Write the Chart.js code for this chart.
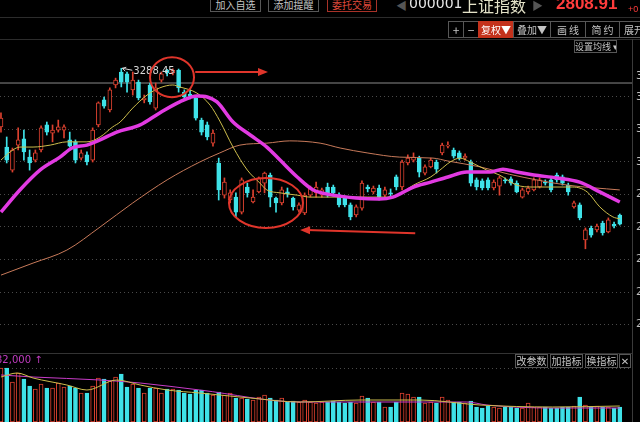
<!DOCTYPE html>
<html>
<head>
<meta charset="utf-8">
<script src="https://cdn.jsdelivr.net/npm/chart.js@4.4.0/dist/chart.umd.min.js"></script>
<style>
  html, body { margin: 0; padding: 0; overflow: hidden; }
  body { background: #000; width: 640px; height: 422px; position: relative; font-family: "Noto Sans CJK SC", "DejaVu Sans", sans-serif; }
  .ui { position: absolute; z-index: 3; white-space: nowrap; }
  .btn { position: absolute; z-index: 3; box-sizing: border-box; border: 1px solid #575757; color: #c4c4c4; font-size: 10px; line-height: 13px; text-align: center; background: #000; white-space: nowrap; overflow: hidden; }
  .hline { position: absolute; left: 0; height: 1px; background: #2c2c2c; z-index: 1; }
  canvas { position: absolute; left: 0; }
</style>
</head>
<body>
<!-- top bar -->
<div class="btn" style="left:210px;top:-3px;width:51px;height:15px;">加入自选</div>
<div class="btn" style="left:268px;top:-3px;width:51px;height:15px;">添加提醒</div>
<div class="btn" style="left:327px;top:-3px;width:50px;height:15px;color:#e04a3c;border-color:#a83228;">委托交易</div>
<div class="ui" style="left:396px;top:-3px;font-size:11px;color:#555;">◀</div>
<div class="ui" style="left:409px;top:-5px;font-size:14px;color:#e6e6e6;font-family:'DejaVu Sans';">000001</div>
<div class="ui" style="left:462px;top:-7px;font-size:16px;color:#e4e2c8;">上证指数</div>
<div class="ui" style="left:532px;top:-3px;font-size:11px;color:#555;">▶</div>
<div class="ui" style="left:556px;top:-6px;font-size:17px;font-weight:bold;color:#ff3c3c;font-family:'Liberation Sans';">2808.91</div>
<div class="ui" style="left:628px;top:4px;font-size:9px;color:#ff3c3c;font-family:'Liberation Sans';">+0</div>
<div class="hline" style="top:17px;width:640px;"></div>
<!-- second bar -->
<div class="btn" style="left:448px;top:21px;width:16px;height:17px;line-height:15px;font-size:12px;">+</div>
<div class="btn" style="left:463px;top:21px;width:16px;height:17px;line-height:15px;font-size:12px;">−</div>
<div class="btn" style="left:478px;top:21px;width:36px;height:17px;line-height:15px;background:#c4321c;color:#fff;border-color:#c4321c;">复权▼</div>
<div class="btn" style="left:513px;top:21px;width:38px;height:17px;line-height:15px;">叠加▼</div>
<div class="btn" style="left:550px;top:21px;width:36px;height:17px;line-height:15px;">画 线</div>
<div class="btn" style="left:585px;top:21px;width:35px;height:17px;line-height:15px;">简 约</div>
<div class="btn" style="left:619px;top:21px;width:30px;height:17px;line-height:15px;">展开</div>
<div class="hline" style="top:39px;width:640px;"></div>
<div class="btn" style="left:574px;top:40px;width:43px;height:13px;line-height:11px;font-size:9px;">设置均线 ▾</div>
<!-- panel frame -->
<div style="position:absolute;left:632px;top:39px;width:1px;height:383px;background:#3a3a3a;z-index:1;"></div>
<div class="hline" style="top:353px;width:632px;background:#333;"></div>
<div class="ui" style="left:-4px;top:354px;font-size:10px;color:#c23cc2;font-family:'DejaVu Sans';">32,000 ↑</div>
<div class="btn" style="left:515px;top:354px;width:33px;height:14px;line-height:12px;">改参数</div>
<div class="btn" style="left:550px;top:354px;width:33px;height:14px;line-height:12px;">加指标</div>
<div class="btn" style="left:585px;top:354px;width:33px;height:14px;line-height:12px;">换指标</div>
<div class="btn" style="left:619px;top:354px;width:12px;height:14px;line-height:12px;">✕</div>

<canvas id="priceChart" width="680" height="353" style="top:20px;"></canvas>
<canvas id="volChart" width="680" height="66" style="top:356px;"></canvas>

<script>
// daily candles, index 0..108
const opens = [
  3108,3046,2975,3052,3071,3015,3006,3037,3114,3089,
  3098,3098,3068,3062,3012,3022,3006,3114,3191,3160,
  3237,3277,3271,3222,3246,3191,3237,3166,3252,3283,
  3274,3282,3215,3209,3197,3129,3114,3058,2997,2898,
  2883,2892,2846,2923,2877,2908,2935,2960,2889,2874,
  2908,2889,2852,2843,2898,2905,2898,2923,2923,2892,
  2889,2868,2837,2858,2923,2908,2920,2898,2905,2954,
  2923,2997,3006,3012,2966,2985,3000,3028,3049,3037,
  3028,3012,3000,2945,2942,2945,2920,2926,2945,2948,
  2935,2892,2908,2914,2923,2938,2945,2960,2954,2929,
  2862,2868,2760,2797,2791,2812,2785,2809,2837
];
const highs = [
  3151,3077,3043,3105,3098,3037,3037,3111,3123,3114,
  3129,3114,3092,3068,3037,3031,3105,3185,3200,3228,
  3258,3288.45,3277,3277,3252,3206,3243,3243,3277,3285,
  3287,3286,3222,3222,3203,3135,3123,3098,3012,2951,
  2914,2905,2951,2935,2914,2954,2969,2966,2892,2923,
  2920,2892,2874,2905,2926,2938,2920,2935,2929,2905,
  2895,2874,2868,2942,2929,2926,2929,2923,2917,2960,
  3006,3022,3028,3018,2991,3012,3006,3058,3062,3043,
  3034,3025,3006,2951,2948,2951,2945,2957,2951,2954,
  2942,2920,2926,2951,2951,2945,2951,2966,2960,2935,
  2880,2874,2797,2803,2809,2818,2828,2815,2840
];
const lows = [
  3092,2997,2969,3037,3006,2975,3000,3031,3083,3062,
  3092,3074,3046,2997,3006,2991,3000,3108,3166,3154,
  3228,3231,3215,3206,3191,3182,3178,3160,3246,3265,
  3268,3215,3191,3194,3129,3083,3068,3049,2883,2889,
  2874,2831,2840,2892,2874,2905,2905,2862,2846,2868,
  2892,2852,2846,2838,2892,2892,2892,2892,2895,2862,
  2862,2822,2831,2852,2908,2902,2883,2892,2889,2914,
  2914,2991,3000,2954,2960,2982,2966,3022,3043,3012,
  3006,3006,2926,2914,2914,2914,2914,2898,2935,2929,
  2905,2889,2902,2911,2920,2929,2908,2938,2929,2898,
  2858,2822,2733,2769,2785,2775,2782,2797,2806
];
const closes = [
  3135,3006,3037,3068,3031,2997,3028,3105,3092,3098,
  3108,3108,3049,3006,3028,3000,3098,3182,3172,3222,
  3252,3246,3246,3252,3197,3197,3185,3228,3271,3274,
  3282,3228,3200,3203,3135,3092,3077,3089,2914,2938,
  2905,2846,2945,2905,2892,2951,2966,2892,2874,2914,
  2902,2862,2868,2898,2920,2923,2914,2905,2905,2868,
  2868,2831,2862,2935,2917,2920,2892,2914,2902,2923,
  3000,3012,3015,2969,2985,3006,2978,3052,3052,3018,
  3012,3018,2935,2923,2920,2920,2938,2951,2942,2935,
  2908,2914,2920,2945,2945,2935,2914,2945,2935,2908,
  2874,2828,2791,2775,2803,2782,2822,2803,2808.91
];
const volumes = [
  32400,32400,24000,29400,25800,21600,19800,22800,20400,20400,
  23400,21000,21600,20400,17400,17400,21600,26400,25800,24600,
  27000,28800,21000,22800,20400,17400,20400,20400,17400,19800,
  19800,19200,17400,16800,19200,19200,17400,16200,18000,16200,
  17400,14400,14400,13800,13200,15000,16200,14400,13200,14400,
  12000,12600,12000,13200,12000,11400,12000,12000,12600,12000,
  11400,12000,11400,15600,14400,12000,12000,9000,9000,12000,
  17400,16800,15000,15000,11400,12000,11400,15000,13200,12000,
  12000,11400,12600,9000,8400,9600,9000,8400,9000,9000,
  8400,8400,11400,9000,9000,9000,8400,8400,9000,9000,
  9600,15000,10200,9000,9600,9000,9000,8400,9000
];

// moving averages: [candle index, value]
const ma5 = [[0,3006],[1.6,3031],[3.3,3046],[5.6,3046],[8.6,3052],[11.5,3062],[15,3062],[17.3,3077],
  [19.5,3108],[20.8,3123],[23,3166],[25.5,3206],[27.7,3228],[30,3237],[31.2,3231],[34.2,3212],
  [36.5,3175],[38.2,3126],[40.5,3046],[43,2975],[45.2,2935],[46.4,2914],[48.7,2905],[51.7,2898],
  [54,2892],[59.7,2892],[63.9,2892],[67.4,2892],[69.6,2902],[72,2929],[75,2954],[76.6,2975],
  [78.4,3000],[80.1,3012],[81.9,3000],[84.8,2975],[87,2960],[90,2929],[92.8,2923],[96.3,2923],
  [99.8,2923],[102.3,2908],[104.5,2862],[106.8,2831],[108,2825]];
const ma20 = [[0,2846],[3.3,2914],[6.8,2975],[10.3,3015],[12.4,3043],[15,3052],[17.3,3068],[20.2,3092],
  [24.3,3114],[27.7,3151],[31.2,3185],[34.2,3203],[36,3200],[37.7,3185],[40.5,3123],[43.5,3083],
  [46.4,3046],[48.7,3006],[51.7,2954],[54.5,2914],[58,2898],[62,2889],[66,2886],[68.4,2892],
  [72,2923],[75,2938],[78,2954],[81.3,2969],[85.3,2969],[87.6,2978],[90,2969],[93,2960],
  [97,2951],[101,2938],[104.5,2908],[108,2877]];
const ma60 = [[0,2652],[5.6,2689],[11.5,2729],[17.3,2800],[23,2874],[29,2945],[34.7,3000],[38.2,3028],
  [41.7,3052],[46.4,3058],[50.4,3065],[55.7,3058],[59.2,3043],[63.9,3028],[69.6,3015],[75.4,3012],
  [78,3003],[83.6,2985],[88.8,2962],[98.8,2929],[108,2914]];
const volMa5 = [[0,27000],[2.8,29400],[5.6,26400],[11.5,22200],[15,19200],[20.2,25200],[24.3,22200],
  [29,19200],[34.7,17400],[43.5,14400],[52.2,12000],[62.7,13200],[73.1,13200],[83.6,10200],
  [96.3,9000],[108,9600]];
const volMa10 = [[0,28200],[5.6,27000],[17.3,25200],[24.3,23400],[34.7,19200],[52.2,12000],
  [73.1,12000],[81.3,12000],[84.8,10200],[96.3,8400],[108,8400]];

const priceTicks = [3265, 3200, 3100, 3000, 2900, 2800, 2700, 2600, 2500];
const volTicks = [32000];
const drawnLevel = 3243;
const peakLabel = '3288.45';

const RED = '#dc412f', CYAN = '#3fe2e8', MAGENTA = '#e23ae2', YELLOW = '#cdbd4c', BROWN = '#c87a5a';
const X_MIN = -0.17, X_MAX = 110.13;
const idx = closes.map((_, i) => i);
const isUp = i => closes[i] >= opens[i];
const pts = arr => arr.map(([x, y]) => ({ x, y }));

function arrow(ctx, x1, y1, x2, y2) {
  const a = Math.atan2(y2 - y1, x2 - x1), c = Math.cos(a), s = Math.sin(a);
  ctx.beginPath(); ctx.moveTo(x1, y1); ctx.lineTo(x2 - 6 * c, y2 - 6 * s); ctx.stroke();
  ctx.beginPath(); ctx.moveTo(x2, y2);
  ctx.lineTo(x2 - 10 * c + 4 * s, y2 - 10 * s - 4 * c);
  ctx.lineTo(x2 - 10 * c - 4 * s, y2 - 10 * s + 4 * c);
  ctx.closePath(); ctx.fill();
}

// hand drawn marks on the screenshot + peak label
const notes = {
  id: 'notes',
  afterDatasetsDraw(chart) {
    const { ctx, scales: { x, y } } = chart;
    const px = v => x.getPixelForValue(v), py = v => y.getPixelForValue(v);
    ctx.save();
    const pk = highs.indexOf(Math.max(...highs));
    const hx = px(pk) + 1, hy = py(highs[pk]);
    ctx.strokeStyle = '#d4d4d4'; ctx.lineWidth = 1;
    ctx.beginPath(); ctx.moveTo(hx, hy); ctx.lineTo(hx + 10, hy + 2);
    ctx.moveTo(hx, hy); ctx.lineTo(hx + 4, hy - 1);
    ctx.moveTo(hx, hy); ctx.lineTo(hx + 3, hy + 3); ctx.stroke();
    ctx.fillStyle = '#d8d8d8'; ctx.font = '10px "DejaVu Sans"'; ctx.textBaseline = 'middle';
    ctx.fillText(peakLabel, hx + 11, hy + 3);

    ctx.strokeStyle = '#e0352b'; ctx.fillStyle = '#e0352b'; ctx.lineWidth = 2;
    ctx.beginPath(); ctx.ellipse(px(29.85), py(3261), 22, 20, 0, 0, Math.PI * 2); ctx.stroke();
    ctx.beginPath(); ctx.ellipse(px(46.25), py(2874), 37, 25, 0, 0, Math.PI * 2); ctx.stroke();
    arrow(ctx, px(33.9), py(3277), px(46.6), py(3277));
    arrow(ctx, px(72.3), py(2781), px(52.2), py(2791));
    ctx.restore();
  }
};

new Chart(document.getElementById('priceChart'), {
  type: 'bar',
  data: {
    datasets: [
      { type: 'line', label: 'MA20', data: pts(ma20), borderColor: MAGENTA, borderWidth: 3.5,
        pointRadius: 0, cubicInterpolationMode: 'monotone', order: 0 },
      { type: 'line', label: 'MA5', data: pts(ma5), borderColor: YELLOW, borderWidth: 1,
        pointRadius: 0, cubicInterpolationMode: 'monotone', order: 0 },
      { type: 'line', label: 'MA60', data: pts(ma60), borderColor: BROWN, borderWidth: 1,
        pointRadius: 0, cubicInterpolationMode: 'monotone', order: 0 },
      { label: 'body', data: idx.map(i => ({ x: i, y: [opens[i], closes[i]] })),
        backgroundColor: c => isUp(c.dataIndex) ? '#000' : CYAN,
        borderColor: c => isUp(c.dataIndex) ? RED : CYAN,
        borderWidth: 1, borderSkipped: false, barThickness: 4, minBarLength: 1, grouped: false, order: 1 },
      { label: 'wick', data: idx.map(i => ({ x: i, y: [lows[i], highs[i]] })),
        backgroundColor: c => isUp(c.dataIndex) ? RED : CYAN,
        barThickness: 1, grouped: false, order: 2 },
      { type: 'line', label: 'line', data: [{ x: X_MIN, y: drawnLevel }, { x: X_MAX, y: drawnLevel }],
        borderColor: '#8a8a8a', borderWidth: 1, pointRadius: 0, order: 3 }
    ]
  },
  options: {
    responsive: false,
    animation: false,
    layout: { padding: { top: 20, bottom: 20, left: 0, right: 0 } },
    plugins: { legend: { display: false }, tooltip: { enabled: false } },
    scales: {
      x: { type: 'linear', min: X_MIN, max: X_MAX, offset: false, display: false },
      y: {
        position: 'right', min: 2412.31, max: 3375.38,
        afterBuildTicks: s => { s.ticks = priceTicks.map(v => ({ value: v })); },
        afterFit: s => { s.width = 48; },
        grid: { color: c => (c.tick && c.tick.value > 3250) ? 'rgba(0,0,0,0)' : '#4a4a4a', drawTicks: false },
        border: { display: false, dash: [1, 3] },
        ticks: { color: '#c0c0c0', padding: 4, font: { family: 'DejaVu Sans', size: 11 } }
      }
    }
  },
  plugins: [notes]
});

new Chart(document.getElementById('volChart'), {
  type: 'bar',
  data: {
    datasets: [
      { type: 'line', label: 'VMA5', data: pts(volMa5), borderColor: YELLOW, borderWidth: 1,
        pointRadius: 0, cubicInterpolationMode: 'monotone', order: 0 },
      { type: 'line', label: 'VMA10', data: pts(volMa10), borderColor: '#c83cc8', borderWidth: 1,
        pointRadius: 0, cubicInterpolationMode: 'monotone', order: 0 },
      { label: 'VOL', data: idx.map(i => ({ x: i, y: volumes[i] })),
        backgroundColor: c => isUp(c.dataIndex) ? '#000' : CYAN,
        borderColor: c => isUp(c.dataIndex) ? RED : CYAN,
        borderWidth: 1, borderSkipped: false, barThickness: 4, grouped: false, order: 1 }
    ]
  },
  options: {
    responsive: false,
    animation: false,
    layout: { padding: 0 },
    plugins: { legend: { display: false }, tooltip: { enabled: false } },
    scales: {
      x: { type: 'linear', min: X_MIN, max: X_MAX, offset: false, display: false },
      y: {
        position: 'right', min: 0, max: 39600,
        afterBuildTicks: s => { s.ticks = volTicks.map(v => ({ value: v })); },
        afterFit: s => { s.width = 48; },
        grid: { color: '#4a4a4a', drawTicks: false },
        border: { display: false, dash: [1, 3] },
        ticks: { display: false }
      }
    }
  }
});
</script>
</body>
</html>
